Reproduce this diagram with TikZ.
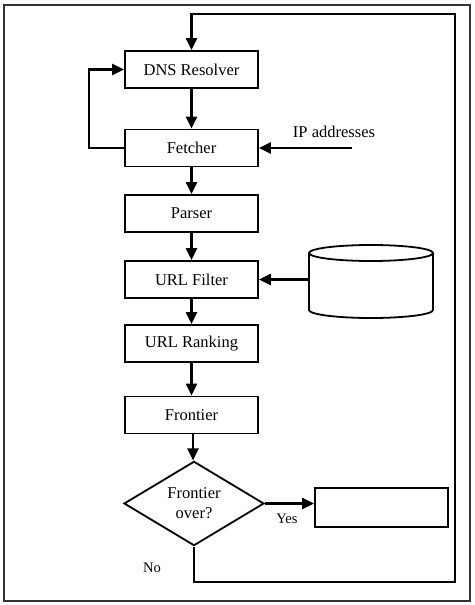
\documentclass[tikz,border=0pt]{standalone}
\usepackage{fontspec}
\setmainfont{Liberation Serif}
\usetikzlibrary{arrows.meta,shapes.geometric}
\begin{document}
\begin{tikzpicture}[x=1pt,y=-1pt,
  box/.style={draw,line width=1.8pt,minimum width=133pt,minimum height=37pt,inner sep=0pt,font=\fontsize{16.5}{18}\selectfont},
  conn/.style={line width=2.2pt,-{Triangle[length=12pt,width=11pt]}},
  lbl/.style={font=\fontsize{16.5}{18}\selectfont,inner sep=0pt},
  slbl/.style={font=\fontsize{14.5}{16}\selectfont,inner sep=0pt}]
\useasboundingbox (0,0) rectangle (474,605);
\draw[line width=2.4pt,black!80] (4,5) rectangle (470,601);
\node[box] (dns) at (191.5,69.5) {DNS Resolver};
\node[box] (fet) at (191.5,148) {Fetcher};
\node[box] (par) at (191.5,213.5) {Parser};
\node[box] (fil) at (191.5,279.5) {URL Filter};
\node[box] (rank) at (191.5,343.5) {URL Ranking};
\node[box] (fro) at (191.5,415) {Frontier};
\node[draw,line width=1.8pt,diamond,minimum width=140pt,minimum height=83pt,inner sep=0pt,align=center,font=\fontsize{16.5}{20}\selectfont] (dec) at (194,503.5) {Frontier\\over?};
\node[draw,line width=1.8pt,minimum width=133pt,minimum height=39pt,inner sep=0pt] (yesbox) at (381.5,507.5) {};
% cylinder
\draw[line width=1.8pt,fill=white] (309,253) -- (309,310) arc[start angle=180,end angle=360,x radius=62pt,y radius=8pt] -- (433,253);
\draw[line width=1.8pt] (371,253) ellipse[x radius=62pt,y radius=8pt];
\coordinate (db) at (309,279.5);
\coordinate (ip) at (352,148);
\coordinate (tr) at (455,14);
\coordinate (br) at (455,582);
% connectors
\draw[conn] (dns) -- (fet);
\draw[conn] (fet) -- (par);
\draw[conn] (par) -- (fil);
\draw[conn] (fil) -- (rank);
\draw[conn] (rank) -- (fro);
\draw[conn] (fro.south -| 193,0) -- (dec.north -| 193,0);
\draw[conn] (fet.west) -- (89,148) |- (dns.west);
\draw[conn] (ip) -- (fet.east);
\draw[conn] (db) -- (fil.east);
\draw[conn] (dec.east) -- (yesbox.west |- dec.east);
\draw[conn] (dec.south) |- (br) -- (tr) -| (dns.north);
\node[lbl] (iplbl) at (334,132) {IP addresses};
\node[slbl] (yes) at (287,519) {Yes};
\node[slbl] (no) at (152,568) {No};
\end{tikzpicture}
\end{document}
